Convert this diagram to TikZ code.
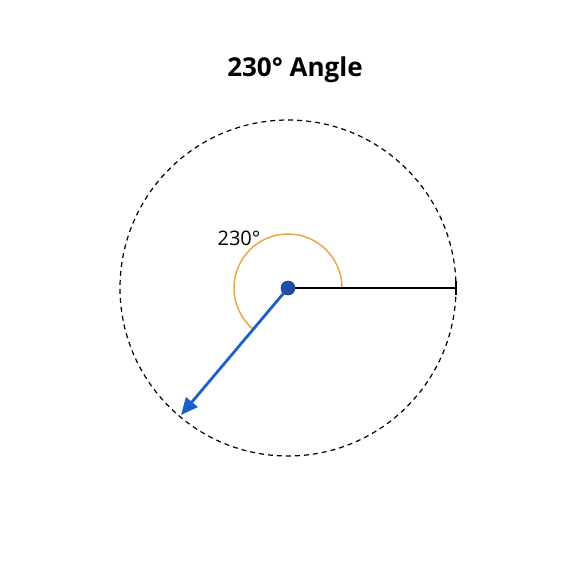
\documentclass[tikz,border=0pt]{standalone}
\usepackage{fontspec}
\setmainfont{Open Sans}
\usetikzlibrary{arrows.meta}
\definecolor{arcorange}{HTML}{E8A33A}
\definecolor{vecblue}{HTML}{1F5FCC}
\definecolor{dotblue}{HTML}{1E4FA8}
\tikzset{
  ray/.style={line width=2.8pt, black},
  vec/.style={line width=2.8pt, vecblue, -{Triangle[length=17pt,width=15pt]}},
  arcline/.style={line width=1.4pt, arcorange},
  dashcircle/.style={line width=1.2pt, black, dash pattern=on 5pt off 4pt},
}
\begin{document}
\begin{tikzpicture}[x=1pt,y=-1pt]
\useasboundingbox (0,0) rectangle (576,576);
\coordinate (O) at (288,288);
\coordinate (E) at (456,288);
\coordinate (T) at (181,415);
\draw[dashcircle] (O) circle[radius=168];
\draw[arcline] (342,288) arc[start angle=0, end angle=-230, radius=54];
\draw[ray] (O) -- (E);
\draw[line width=1.6pt] (456,281) -- (456,295);
\draw[vec] (O) -- (T);
\node[circle, fill=dotblue, draw=dotblue!80!black, line width=0.6pt, minimum size=14pt, inner sep=0pt] (dot) at (O) {};
\node[font=\bfseries\fontsize{26}{30}\selectfont] (title) at (295,70) {230° Angle};
\node[font=\fontsize{20}{24}\selectfont] (lbl) at (239,238) {230°};
\end{tikzpicture}
\end{document}
